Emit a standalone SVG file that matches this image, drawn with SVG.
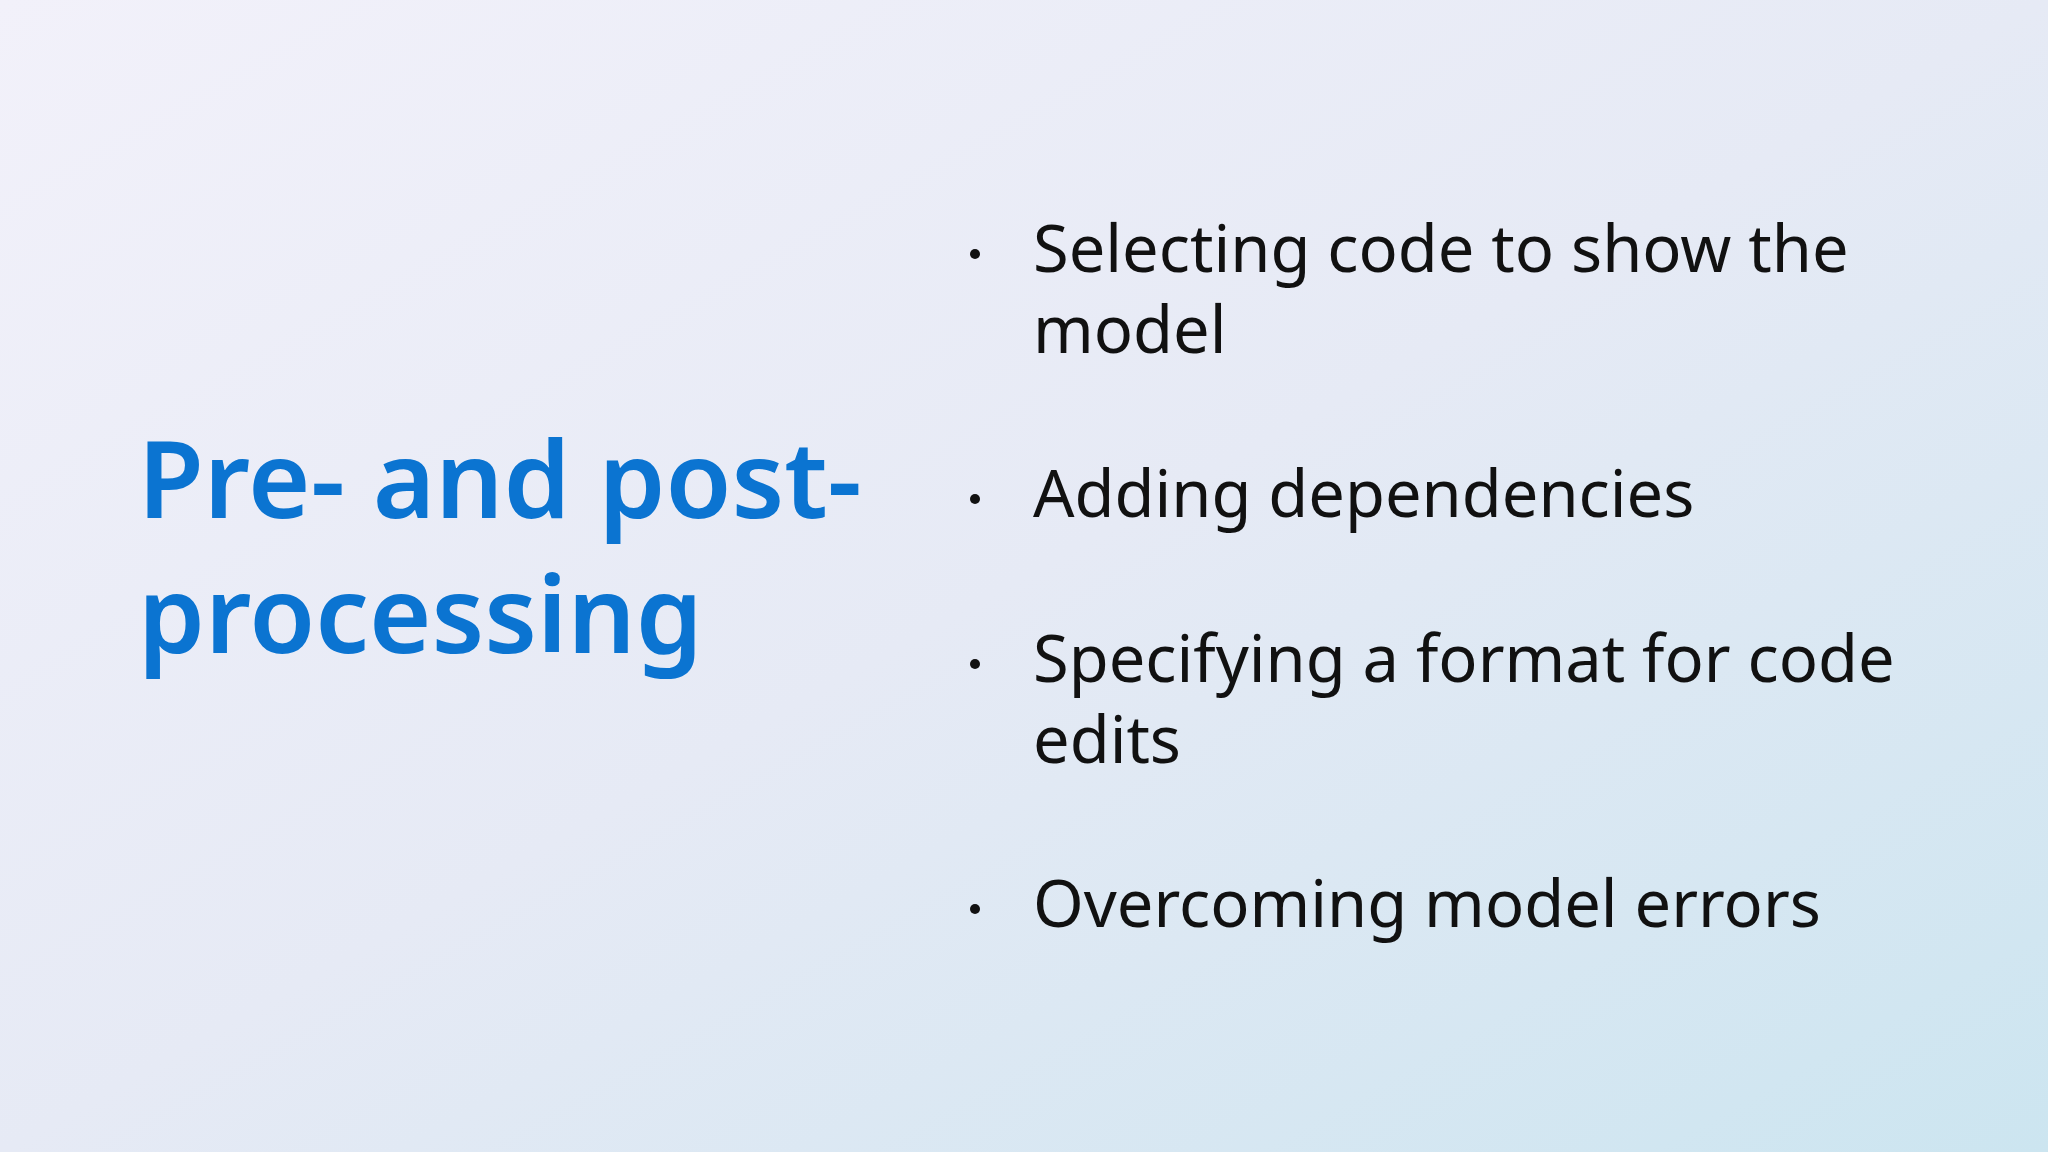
<svg xmlns="http://www.w3.org/2000/svg" width="2048" height="1152" viewBox="0 0 2048 1152">
<defs>
<linearGradient id="bg" x1="0" y1="0" x2="1" y2="1">
<stop offset="0" stop-color="#f2f1fa"/>
<stop offset="0.5" stop-color="#e6eaf5"/>
<stop offset="1" stop-color="#cce5f0"/>
</linearGradient>
<style>
.t{font-family:"Noto Sans","Open Sans",sans-serif;font-size:107px;font-weight:600;fill:#0b74d1}
.b{font-family:"Noto Sans","Open Sans",sans-serif;font-size:65px;fill:#111}
</style>
</defs>
<rect width="2048" height="1152" fill="url(#bg)"/>
<g id="title">
<text class="t" x="138" y="518">Pre- and post-</text>
<text class="t" x="138" y="653">processing</text>
</g>
<g id="bullets">
<circle cx="975" cy="254" r="5" fill="#111"/>
<text class="b" x="1033" y="272">Selecting code to show the</text>
<text class="b" x="1033" y="353">model</text>
<circle cx="975" cy="499" r="5" fill="#111"/>
<text class="b" x="1033" y="517">Adding dependencies</text>
<circle cx="975" cy="664" r="5" fill="#111"/>
<text class="b" x="1033" y="682">Specifying a format for code</text>
<text class="b" x="1033" y="763">edits</text>
<circle cx="975" cy="909" r="5" fill="#111"/>
<text class="b" x="1033" y="927">Overcoming model errors</text>
</g>
</svg>
